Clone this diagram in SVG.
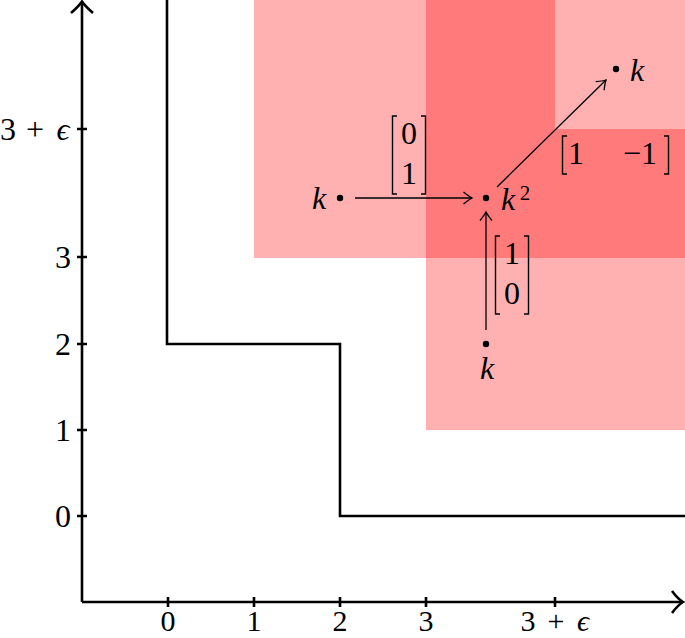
<svg xmlns="http://www.w3.org/2000/svg" width="685" height="638" viewBox="0 0 685 638">
<style>
.ax{stroke:#000;stroke-width:2.6;fill:none}
.thin{stroke:#000;stroke-width:1.3;fill:none}
.br{stroke:#000;stroke-width:1.4;fill:none}
.light{fill:#ffb0b0}
.dark{fill:#ff7a7a}
</style>
<defs>
<marker id="ah" markerUnits="userSpaceOnUse" viewBox="-10 -8 12 16" refX="0" refY="0" markerWidth="12" markerHeight="16" orient="auto">
<path d="M -8.5 -6 Q -3 -1.5 0 0 Q -3 1.5 -8.5 6" fill="none" stroke="#000" stroke-width="1.3"/>
</marker>
</defs>
<g id="regions">
<rect class="light" x="254" y="0" width="431" height="258"/>
<rect class="light" x="426" y="258" width="259" height="172"/>
<rect class="dark" x="426" y="0" width="129" height="258"/>
<rect class="dark" x="555" y="129" width="130" height="129"/>
</g>
<g id="staircase">
<path class="ax" d="M167 0 V344 H340 V516 H685"/>
</g>
<g id="axes" font-family="'Liberation Serif', 'DejaVu Serif', serif" font-size="32">
<path class="ax" d="M82 602 V2 M82 602 H682"/>
<path class="ax" d="M71 13 Q79 6 82 1.5 Q85 6 93 13"/>
<path class="ax" d="M672 591 Q678 599 683 602 Q678 605 672 613"/>
<path class="ax" d="M77 516 H87 M77 430 H87 M77 344 H87 M77 257 H87 M77 129 H87"/>
<path class="ax" d="M168 597 V607 M254 597 V607 M340 597 V607 M426 597 V607 M555 597 V607"/>
<text x="71" y="527" text-anchor="end">0</text>
<text x="71" y="441" text-anchor="end">1</text>
<text x="71" y="355" text-anchor="end">2</text>
<text x="71" y="268" text-anchor="end">3</text>
<text x="8" y="140" text-anchor="middle">3</text>
<text x="35" y="140" text-anchor="middle">+</text>
<text x="63" y="140" text-anchor="middle" font-style="italic">ϵ</text>
<g font-size="30">
<text x="168" y="631" text-anchor="middle">0</text>
<text x="254" y="631" text-anchor="middle">1</text>
<text x="340" y="631" text-anchor="middle">2</text>
<text x="426" y="631" text-anchor="middle">3</text>
<text x="528" y="631" text-anchor="middle">3</text>
<text x="556" y="631" text-anchor="middle">+</text>
<text x="583" y="631" text-anchor="middle" font-style="italic">ϵ</text>
</g>
</g>
<g id="connectors" font-family="'Liberation Serif', 'DejaVu Serif', serif" font-size="32">
<g id="e1">
<line class="thin" x1="355" y1="198" x2="472" y2="198" marker-end="url(#ah)"/>
<path class="br" d="M397 116 H392.5 V194 H397 M421 116 H425.5 V194 H421"/>
<text x="409" y="144" text-anchor="middle">0</text>
<text x="409" y="184" text-anchor="middle">1</text>
</g>
<g id="e2">
<line class="thin" x1="486" y1="330" x2="486" y2="212" marker-end="url(#ah)"/>
<path class="br" d="M500 236 H495.5 V314 H500 M524 236 H528.5 V314 H524"/>
<text x="512" y="264" text-anchor="middle">1</text>
<text x="512" y="304" text-anchor="middle">0</text>
</g>
<g id="e3">
<line class="thin" x1="497" y1="187" x2="606" y2="80" marker-end="url(#ah)"/>
<path class="br" d="M567 136 H562.5 V174 H567 M664 136 H668.5 V174 H664"/>
<text x="576" y="164" text-anchor="middle">1</text>
<text x="640" y="164" text-anchor="middle">−1</text>
</g>
</g>
<g id="nodes" font-family="'Liberation Serif', 'DejaVu Serif', serif" font-size="32">
<g id="n1">
<circle cx="340" cy="198" r="3.2"/>
<text x="319" y="209" text-anchor="middle" font-style="italic">k</text>
</g>
<g id="n2">
<circle cx="486" cy="198" r="3.2"/>
<text x="508" y="210" text-anchor="middle" font-style="italic">k</text>
<text x="525" y="200" text-anchor="middle" font-size="21">2</text>
</g>
<g id="n3">
<circle cx="486" cy="344" r="3.2"/>
<text x="487" y="379" text-anchor="middle" font-style="italic">k</text>
</g>
<g id="n4">
<circle cx="616" cy="69" r="3.2"/>
<text x="637" y="81" text-anchor="middle" font-style="italic">k</text>
</g>
</g>
</svg>
